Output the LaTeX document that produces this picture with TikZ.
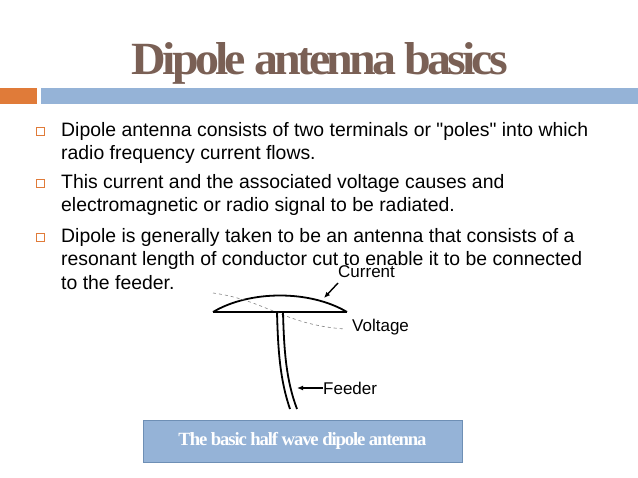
\documentclass[tikz,border=0pt]{standalone}
\usepackage{fontspec}
\setmainfont{Liberation Serif}
\setsansfont{Liberation Sans}[Ligatures=TeXOff]
\usetikzlibrary{arrows.meta}
\definecolor{titlec}{HTML}{7A6055}
\definecolor{orng}{HTML}{E07B39}
\definecolor{blu}{HTML}{95B3D7}
\definecolor{blud}{HTML}{6E8FB5}
\tikzset{
  bul/.style={draw=orng,line width=0.7pt,minimum size=8pt,inner sep=0pt},
  txt/.style={anchor=west,inner sep=0pt,font=\sffamily\fontsize{19.4}{22}\selectfont},
  lab/.style={anchor=west,inner sep=0pt,font=\sffamily\fontsize{17}{18}\selectfont},
  ant/.style={line width=2.8pt},
}
\begin{document}
\begin{tikzpicture}[x=1pt,y=-1pt]
\useasboundingbox (0,0) rectangle (638,478);
\node[inner sep=0pt,text=titlec] (title) at (320,63) {\resizebox{376pt}{32pt}{\bfseries\fontsize{40}{40}\selectfont\addfontfeature{LetterSpace=-8}Dipole antenna basics}};
\fill[orng] (0,88) rectangle (37,104);
\fill[blu] (41,88) rectangle (638,104);
\node[bul] (b1) at (40,131) {};
\node[bul] (b2) at (40,183) {};
\node[bul] (b3) at (40,237) {};
\node[txt] (l1) at (61,131) {Dipole antenna consists of two terminals or "poles" into which};
\node[txt] (l2) at (61,154) {radio frequency current flows.};
\node[txt] (l3) at (61,183) {This current and the associated voltage causes and};
\node[txt] (l4) at (61,206) {electromagnetic or radio signal to be radiated.};
\node[txt] (l5) at (61,237) {Dipole is generally taken to be an antenna that consists of a};
\node[txt] (l6) at (61,260) {resonant length of conductor cut to enable it to be connected};
\node[txt] (l7) at (61,283) {to the feeder.};
% antenna
\coordinate (L) at (213,312);
\coordinate (R) at (347,312);
\fill[white] (L) .. controls (250,290) and (310,290) .. (R) -- cycle;
\draw[ant] (L) -- (R);
\draw[line width=1.8pt] (L) .. controls (250,290) and (310,290) .. (R);
\draw[dashed,line width=0.6pt,gray] (213,293) .. controls (265,300) and (285,325) .. (345,329);
\draw[line width=1.8pt] (277,312) .. controls (278,350) and (280,380) .. (290,409);
\draw[line width=1.8pt] (283,312) .. controls (284,350) and (286,380) .. (297,409);
\node[lab,fill=white,inner sep=1pt] (cur) at (337,272) {Current};
\node[lab] (vol) at (352,327) {Voltage};
\node[lab] (fee) at (323,388) {Feeder};
\coordinate (ca) at (338,283);
\draw[-{Latex[length=6pt,width=5pt]},line width=1.4pt] (ca) -- (324,298);
\draw[-{Latex[length=6pt,width=5pt]},line width=1.4pt] (fee.west) -- (297,388);
\node[draw=blud,fill=blu,line width=0.8pt,minimum width=319pt,minimum height=42pt,inner sep=0pt,text=white] (cap) at (302.5,441)
  {\resizebox{248pt}{!}{\bfseries\fontsize{12}{12}\selectfont\addfontfeature{LetterSpace=-6}The basic half wave dipole antenna}};
\end{tikzpicture}
\end{document}
